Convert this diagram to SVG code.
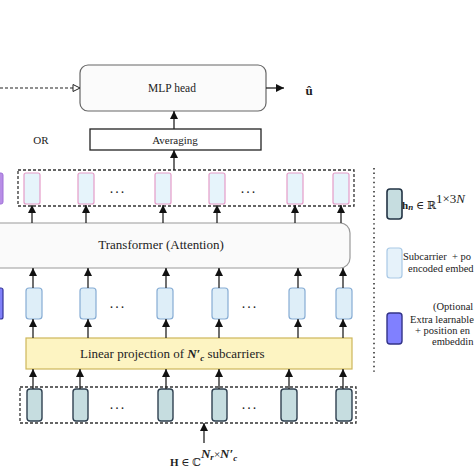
<svg xmlns="http://www.w3.org/2000/svg" width="474" height="474" viewBox="0 0 474 474">
<style>
text{font-family:"Liberation Serif","DejaVu Serif",serif;fill:#222}
.pink{fill:#e6f4fb;stroke:#e49cc8;stroke-width:1.2}
.mid{fill:#deeef8;stroke:#86acd4;stroke-width:1.2}
.bot{fill:#c6dde0;stroke:#2f4050;stroke-width:1.4}
.dash{fill:none;stroke:#333;stroke-width:1.3;stroke-dasharray:3 2}
.arr{stroke:#222;stroke-width:1.3;fill:none;marker-end:url(#ah)}
.dots{font-size:14px;letter-spacing:2px;text-anchor:middle}
</style>
<defs>
<marker id="ah" markerUnits="userSpaceOnUse" markerWidth="9" markerHeight="9" refX="8" refY="4" orient="auto"><path d="M0,0 L8,4 L0,8 z" fill="#111"/></marker>
<marker id="oh" markerUnits="userSpaceOnUse" markerWidth="10" markerHeight="10" refX="8" refY="4.5" orient="auto"><path d="M1,1 L8,4.5 L1,8 z" fill="#fff" stroke="#222" stroke-width="1"/></marker>
</defs>
<rect width="474" height="474" fill="#fff"/>

<g id="mlp-head">
<rect x="80" y="65" width="186" height="46" rx="8" fill="#fbfbfb" stroke="#666" stroke-width="1.2"/>
<text x="172" y="92" font-size="11.5" text-anchor="middle">MLP head</text>
</g>
<g id="output"><text x="309" y="95" font-size="13" font-weight="bold" text-anchor="middle">û</text></g>
<g id="averaging">
<rect x="90" y="129" width="171" height="21" fill="#fff" stroke="#222" stroke-width="1.3"/>
<text x="175" y="143.5" font-size="11" text-anchor="middle">Averaging</text>
</g>
<g id="or"><text x="41" y="144" font-size="11" text-anchor="middle">OR</text></g>

<g id="output-tokens">
<rect class="dash" x="18" y="170" width="336" height="36"/>
<rect class="pink" x="24" y="173" width="16" height="31" rx="2"/>
<rect class="pink" x="78" y="173" width="16" height="31" rx="2"/>
<rect class="pink" x="155" y="173" width="16" height="31" rx="2"/>
<rect class="pink" x="209" y="173" width="16" height="31" rx="2"/>
<rect class="pink" x="287" y="173" width="16" height="31" rx="2"/>
<rect class="pink" x="333" y="173" width="16" height="31" rx="2"/>
<text class="dots" x="118" y="193">...</text>
<text class="dots" x="249" y="193">...</text>
<rect x="-6" y="173" width="9" height="31" rx="2" fill="#b88ee6" stroke="#a070d8"/>
</g>

<g id="transformer">
<rect x="-20" y="223" width="370" height="45" rx="10" fill="#fafafa" stroke="#999" stroke-width="1.2"/>
<text x="161" y="249" font-size="13" text-anchor="middle">Transformer (Attention)</text>
</g>

<g id="embeddings">
<rect class="mid" x="26" y="288" width="16" height="31" rx="3"/>
<rect class="mid" x="80" y="288" width="16" height="31" rx="3"/>
<rect class="mid" x="157" y="288" width="16" height="31" rx="3"/>
<rect class="mid" x="212" y="288" width="16" height="31" rx="3"/>
<rect class="mid" x="289" y="288" width="16" height="31" rx="3"/>
<rect class="mid" x="336" y="288" width="16" height="31" rx="3"/>
<text class="dots" x="118" y="308">...</text>
<text class="dots" x="250" y="308">...</text>
<rect x="-6" y="288" width="9" height="31" rx="2" fill="#8080f8" stroke="#333399" stroke-width="1.2"/>
</g>

<g id="linear-projection">
<rect x="26" y="338" width="326" height="31" fill="#fdf4c2" stroke="#cdb65a" stroke-width="1.2"/>
<text x="80" y="358" font-size="13">Linear projection of <tspan font-style="italic" font-weight="bold">N′</tspan><tspan font-size="9" dy="3" font-style="italic" font-weight="bold">c</tspan><tspan dy="-3"> subcarriers</tspan></text>
</g>

<g id="input-channels">
<rect class="dash" x="20" y="387" width="336" height="36"/>
<rect class="bot" x="27" y="389" width="15" height="32" rx="3"/>
<rect class="bot" x="73" y="389" width="15" height="32" rx="3"/>
<rect class="bot" x="158" y="389" width="15" height="32" rx="3"/>
<rect class="bot" x="212" y="389" width="15" height="32" rx="3"/>
<rect class="bot" x="281" y="389" width="16" height="32" rx="3"/>
<rect class="bot" x="336" y="389" width="16" height="32" rx="3"/>
<text class="dots" x="118" y="409">...</text>
<text class="dots" x="250" y="409">...</text>
</g>

<g id="input-label">
<text x="170" y="466" font-size="11"><tspan font-weight="bold">H</tspan> ∈ ℂ<tspan dy="-8" font-size="13" font-style="italic" font-weight="bold">N</tspan><tspan dy="2" font-size="9" font-style="italic" font-weight="bold">r</tspan><tspan dy="-2" font-size="11">×</tspan><tspan font-size="13" font-style="italic" font-weight="bold">N′</tspan><tspan font-size="9" dy="3" font-style="italic" font-weight="bold">c</tspan></text>
</g>

<g id="connectors">
<line x1="0" y1="88" x2="80" y2="88" stroke="#222" stroke-width="1.2" stroke-dasharray="3 2" marker-end="url(#oh)"/>
<line class="arr" x1="266" y1="88" x2="284" y2="88"/>
<line class="arr" x1="174" y1="129" x2="174" y2="111"/>
<line class="arr" x1="174" y1="170" x2="174" y2="150"/>
<line class="arr" x1="32" y1="223" x2="32" y2="205"/>
<line class="arr" x1="86" y1="223" x2="86" y2="205"/>
<line class="arr" x1="163" y1="223" x2="163" y2="205"/>
<line class="arr" x1="217" y1="223" x2="217" y2="205"/>
<line class="arr" x1="295" y1="223" x2="295" y2="205"/>
<line class="arr" x1="341" y1="223" x2="341" y2="205"/>
<line class="arr" x1="33" y1="288" x2="33" y2="268"/>
<line class="arr" x1="88" y1="288" x2="88" y2="268"/>
<line class="arr" x1="166" y1="288" x2="166" y2="268"/>
<line class="arr" x1="219" y1="288" x2="219" y2="268"/>
<line class="arr" x1="298" y1="288" x2="298" y2="268"/>
<line class="arr" x1="343" y1="288" x2="343" y2="268"/>
<line class="arr" x1="33" y1="338" x2="33" y2="319"/>
<line class="arr" x1="88" y1="338" x2="88" y2="319"/>
<line class="arr" x1="166" y1="338" x2="166" y2="319"/>
<line class="arr" x1="219" y1="338" x2="219" y2="319"/>
<line class="arr" x1="298" y1="338" x2="298" y2="319"/>
<line class="arr" x1="343" y1="338" x2="343" y2="319"/>
<line class="arr" x1="33" y1="389" x2="33" y2="369"/>
<line class="arr" x1="80" y1="389" x2="80" y2="369"/>
<line class="arr" x1="166" y1="389" x2="166" y2="369"/>
<line class="arr" x1="219" y1="389" x2="219" y2="369"/>
<line class="arr" x1="289" y1="389" x2="289" y2="369"/>
<line class="arr" x1="343" y1="389" x2="343" y2="369"/>
<line class="arr" x1="204" y1="443" x2="204" y2="423"/>
</g>

<g id="legend">
<line x1="374" y1="168" x2="374" y2="372" stroke="#333" stroke-width="1.6" stroke-dasharray="1.4 3.2"/>
<g id="legend-h">
<rect x="387" y="189" width="15" height="30" rx="3" fill="#c6dde0" stroke="#223344" stroke-width="1.6"/>
<text x="402" y="209" font-size="11"><tspan font-weight="bold">h</tspan><tspan font-weight="bold" font-style="italic" font-size="9" dy="1">n</tspan><tspan dy="-1"> ∈ ℝ</tspan><tspan dy="-6" font-size="13">1×3<tspan font-style="italic">N</tspan></tspan></text>
</g>
<g id="legend-sub">
<rect x="387" y="248" width="15" height="30" rx="3" fill="#e6f2fa" stroke="#a9c9e6" stroke-width="1.2"/>
<text x="403" y="260" font-size="10.5" xml:space="preserve">Subcarrier  + po</text>
<text x="408" y="272" font-size="10.5">encoded embed</text>
</g>
<g id="legend-extra">
<rect x="387" y="313" width="15" height="31" rx="3" fill="#8080ff" stroke="#333388" stroke-width="1.4"/>
<text x="433" y="310" font-size="10.5">(Optional</text>
<text x="410" y="323" font-size="10.5">Extra learnable</text>
<text x="415" y="334" font-size="10.5">+ position en</text>
<text x="432" y="345" font-size="10.5">embeddin</text>
</g>
</g>
</svg>
